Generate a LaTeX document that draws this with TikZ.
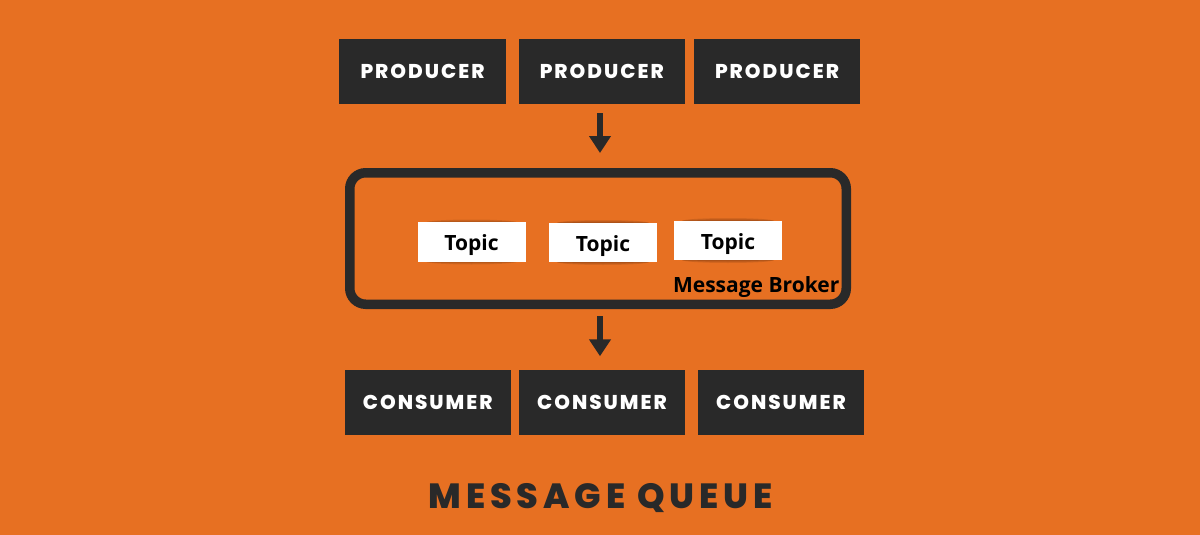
\documentclass[tikz,border=0pt]{standalone}
\usepackage{fontspec}
\usetikzlibrary{arrows.meta}
\newfontfamily\ralefont[LetterSpace=10,BoldFont={Poppins ExtraBold}]{Poppins}
\newfontfamily\titlefont[LetterSpace=14,BoldFont={Poppins ExtraBold}]{Poppins}
\newfontfamily\opensans{Open Sans}
\definecolor{bg}{HTML}{E77022}
\definecolor{ink}{HTML}{292929}
\tikzset{
  x=1pt,y=-1pt,
  darkbox/.style={fill=ink,draw=none,text=white,minimum width=166.5pt,minimum height=65pt,inner sep=0pt,font=\ralefont\fontsize{20}{20}\selectfont\bfseries},
  topicbox/.style={fill=white,draw=none,text=black,minimum width=108pt,minimum height=39.5pt,inner sep=0pt,text height=17pt,text depth=0pt,font=\opensans\fontsize{21}{21}\selectfont\bfseries},
  broker/.style={draw=ink,line width=9.5pt,rounded corners=16pt,minimum width=496.5pt,minimum height=131.5pt,inner sep=0pt},
  flow/.style={draw=ink,line width=5.5pt,-{Triangle[length=17pt,width=21pt]}},
  softshadow/.style={fill=black,opacity=.09,draw=none}
}
\begin{document}
\begin{tikzpicture}
\useasboundingbox (0,0) rectangle (1200,535);
\fill[bg] (0,0) rectangle (1200,535);
% producers
\node[darkbox] (p1) at (422.5,71.5) {PRODUCER};
\node[darkbox] (p2) at (601.75,71.5) {PRODUCER};
\node[darkbox] (p3) at (777,71.5) {PRODUCER};
% broker
\node[broker] (mb) at (598,238.5) {};
% topic shadows
\foreach \cx/\cy in {471.5/242,603/242.5,728/240.5}{
  \foreach \ry in {1,2,3}{
    \fill[softshadow] (\cx,\cy-19.5) ellipse [x radius=46pt,y radius=\ry pt];
    \fill[softshadow] (\cx,\cy+19.5) ellipse [x radius=46pt,y radius=\ry pt];
  }
}
\node[topicbox] (t1) at (471.5,242) {Topic};
\node[topicbox] (t2) at (603,242.5) {Topic};
\node[topicbox] (t3) at (728,240.5) {Topic};
\node[anchor=base east,inner sep=0pt,text=black,font=\opensans\fontsize{21}{21}\selectfont\bfseries] (mbl) at (839.5,292.5) {Message Broker};
% consumers
\node[darkbox] (c1) at (427.75,402) {CONSUMER};
\node[darkbox] (c2) at (602,402) {CONSUMER};
\node[darkbox] (c3) at (781,402) {CONSUMER};
% arrows
\draw[flow] ([shift={(-1.75,9)}]p2.south) -- ([shift={(2,-15)}]mb.north);
\draw[flow] ([shift={(2,7)}]mb.south) -- ([shift={(-2,-13)}]c2.north);
% title
\node[text=ink,inner sep=0pt,font=\titlefont\fontsize{35}{35}\selectfont\bfseries] (title) at (600.5,498) {MESSAGE QUEUE};
\end{tikzpicture}
\end{document}
